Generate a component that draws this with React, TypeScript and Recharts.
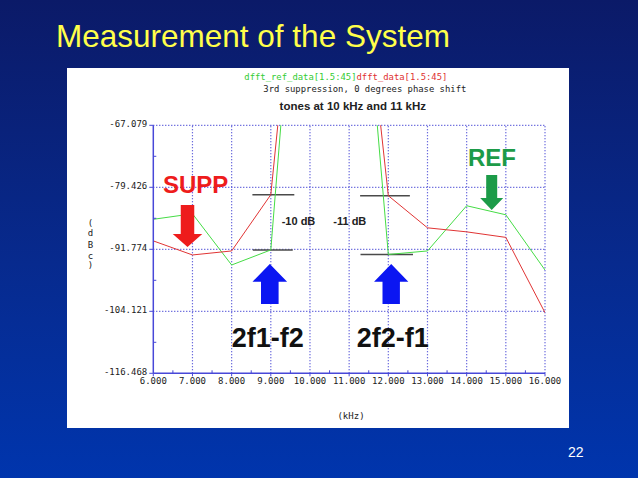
import React from "react";
import { LineChart, Line, XAxis, YAxis, ReferenceLine } from "recharts";

const freqKHz = [6, 7, 8, 9, 10, 11, 12, 13, 14, 15, 16];
const refLevels = [-85.8, -84.7, -94.9, -91.9, 5, -1.4, -92.8, -92.1, -83.1, -84.9, -95.9];
const suppLevels = [-90.1, -92.9, -92.1, -80.9, -3.5, -9.5, -81.1, -87.5, -88.3, -89.4, -104.4];

// axis ticks as printed by the analyser
const xTicks = [6, 7, 8, 9, 10, 11, 12, 13, 14, 15, 16];
const xMinorTicks = [6.5, 7.5, 8.5, 9.5, 10.5, 11.5, 12.5, 13.5, 14.5, 15.5];
const yTicks = [-116.468, -104.121, -91.774, -79.426, -67.079];
const yMinorTicks = [-110.295, -97.948, -85.6, -73.253];

// level bars for the -10 dB / -11 dB readings
const markFrom = [8.53, 8.54, 11.28, 11.29];
const markTo = [9.6, 9.56, 12.55, 12.63];
const markLevel = [-80.9, -91.9, -81.1, -92.8];

const rows = freqKHz.map((khz, i) => ({ khz, ref: refLevels[i], supp: suppLevels[i] }));

const MONO = "'DejaVu Sans Mono', monospace";
const SANS = "'Liberation Sans', Arial, sans-serif";
const AXIS_BLUE = "#4848d8";
const GRID_BLUE = "#3c3cd2";

function XTick({ x, y, payload }: any) {
  const v = payload.value;
  const major = Number.isInteger(v);
  return (
    <g>
      <line x1={x} x2={x} y1={major ? y : y - 3} y2={major ? y + 3 : y} stroke={AXIS_BLUE} />
      {major && (
        <text x={x} y={y + 10.5} textAnchor="middle" fontFamily={MONO} fontSize={9} fill="#222">
          {v.toFixed(3)}
        </text>
      )}
    </g>
  );
}

function YTick({ x, y, payload }: any) {
  const v = payload.value;
  const major = yTicks.includes(v);
  return (
    <g>
      <line x1={major ? x - 4 : x} x2={major ? x : x + 3} y1={y} y2={y} stroke={AXIS_BLUE} />
      {major && (
        <text x={x - 6} y={y + 1.5} textAnchor="end" fontFamily={MONO} fontSize={9} fill="#222">
          {v.toFixed(3)}
        </text>
      )}
    </g>
  );
}

function downArrow(tipX: number, tipY: number, len: number, shaftW: number, headW: number, headL: number) {
  const top = tipY - len;
  const base = tipY - headL;
  return [
    [tipX - shaftW / 2, top],
    [tipX + shaftW / 2, top],
    [tipX + shaftW / 2, base],
    [tipX + headW / 2, base],
    [tipX, tipY],
    [tipX - headW / 2, base],
    [tipX - shaftW / 2, base],
  ]
    .map((p) => p.join(","))
    .join(" ");
}

function upArrow(tipX: number, tipY: number, len: number, shaftW: number, headW: number, headL: number) {
  const bottom = tipY + len;
  const base = tipY + headL;
  return [
    [tipX - shaftW / 2, bottom],
    [tipX + shaftW / 2, bottom],
    [tipX + shaftW / 2, base],
    [tipX + headW / 2, base],
    [tipX, tipY],
    [tipX - headW / 2, base],
    [tipX - shaftW / 2, base],
  ]
    .map((p) => p.join(","))
    .join(" ");
}

export default function App() {
  return (
    <div
      style={{
        position: "absolute",
        left: 0,
        top: 0,
        width: 638,
        height: 478,
        overflow: "hidden",
        background: "linear-gradient(to bottom, #0b1a68 0%, #072a8e 55%, #0035ad 100%)",
      }}
    >
      <div style={{ position: "absolute", left: 67, top: 68, width: 502, height: 360, background: "#fff" }}>
        <LineChart
          width={502}
          height={360}
          data={rows}
          margin={{ top: 57.3, right: 24, bottom: 24.7, left: 6.3 }}
        >
          <XAxis
            type="number"
            dataKey="khz"
            domain={[6, 16]}
            ticks={[...xTicks, ...xMinorTicks]}
            interval={0}
            height={30}
            tickSize={0}
            tickMargin={0}
            tickLine={false}
            tick={XTick}
            axisLine={{ stroke: AXIS_BLUE, strokeWidth: 1.5 }}
            allowDataOverflow
          />
          <YAxis
            type="number"
            domain={[-116.468, -67.079]}
            ticks={[...yTicks, ...yMinorTicks]}
            interval={0}
            width={80}
            tickSize={0}
            tickMargin={0}
            tickLine={false}
            tick={YTick}
            axisLine={{ stroke: AXIS_BLUE, strokeWidth: 1.5 }}
            allowDataOverflow
          />
          {xTicks.slice(1).map((v) => (
            <ReferenceLine key={`gx${v}`} x={v} stroke={GRID_BLUE} strokeWidth={1.2} strokeDasharray="1 2" />
          ))}
          {yTicks.slice(1).map((v) => (
            <ReferenceLine key={`gy${v}`} y={v} stroke={GRID_BLUE} strokeWidth={1.2} strokeDasharray="1 2" />
          ))}
          {markLevel.map((lv, i) => (
            <ReferenceLine
              key={`m${i}`}
              segment={[
                { x: markFrom[i], y: lv },
                { x: markTo[i], y: lv },
              ]}
              stroke="#4a4a4a"
              strokeWidth={1.5}
            />
          ))}
          <Line type="linear" dataKey="ref" stroke="#45dc45" strokeWidth={1} dot={false} isAnimationActive={false} />
          <Line type="linear" dataKey="supp" stroke="#e03434" strokeWidth={1} dot={false} isAnimationActive={false} />
        </LineChart>
      </div>

      <svg
        width={638}
        height={478}
        style={{ position: "absolute", left: 0, top: 0, pointerEvents: "none" }}
      >
        <text x={56} y={46.5} fontFamily={SANS} fontSize={31.5} fill="#ffff4a">
          Measurement of the System
        </text>
        <text x={568} y={457.3} fontFamily={SANS} fontSize={14} fill="#ffffff">
          22
        </text>

        <text x={244.3} y={79.8} fontFamily={MONO} fontSize={8.9}>
          <tspan fill="#33cc33">dfft_ref_data[1.5:45]</tspan>
          <tspan fill="#e03030">dfft_data[1.5:45]</tspan>
        </text>
        <text x={263.3} y={91.5} fontFamily={MONO} fontSize={8.9} fill="#222">
          3rd suppression, 0 degrees phase shift
        </text>
        <text x={352.8} y={110} textAnchor="middle" fontFamily={SANS} fontWeight="bold" fontSize={11.5} fill="#222">
          tones at 10 kHz and 11 kHz
        </text>

        {["(", "d", "B", "c", ")"].map((ch, i) => (
          <text key={i} x={90.5} y={[225.5, 235.5, 248, 258.5, 268][i]} textAnchor="middle" fontFamily={MONO} fontSize={9} fill="#222">
            {ch}
          </text>
        ))}
        <text x={351} y={419} textAnchor="middle" fontFamily={MONO} fontSize={9} fill="#222">
          (kHz)
        </text>

        <text x={163} y={193} fontFamily={SANS} fontWeight="bold" fontSize={24} fill="#ee1c1c">
          SUPP
        </text>
        <polygon points={downArrow(187.5, 247, 42, 13.5, 29.5, 13)} fill="#ee1c1c" />

        <text x={468} y={166} fontFamily={SANS} fontWeight="bold" fontSize={24} fill="#1c9b48">
          REF
        </text>
        <polygon points={downArrow(491.7, 210, 35, 11, 23, 12)} fill="#1c9b48" />

        <polygon points={upArrow(269.8, 264, 40, 17.6, 34.6, 17.7)} fill="#0b16f2" />
        <polygon points={upArrow(391.2, 264, 40, 17.4, 34.3, 17.7)} fill="#0b16f2" />

        <text x={281.7} y={225} fontFamily={SANS} fontWeight="bold" fontSize={11} fill="#222">
          -10 dB
        </text>
        <text x={333.3} y={225} fontFamily={SANS} fontWeight="bold" fontSize={11} fill="#222">
          -11 dB
        </text>

        <text x={231.7} y={346.7} fontFamily={SANS} fontWeight="bold" fontSize={27} fill="#111">
          2f1-f2
        </text>
        <text x={356.7} y={346.7} fontFamily={SANS} fontWeight="bold" fontSize={27} fill="#111">
          2f2-f1
        </text>
      </svg>
    </div>
  );
}
